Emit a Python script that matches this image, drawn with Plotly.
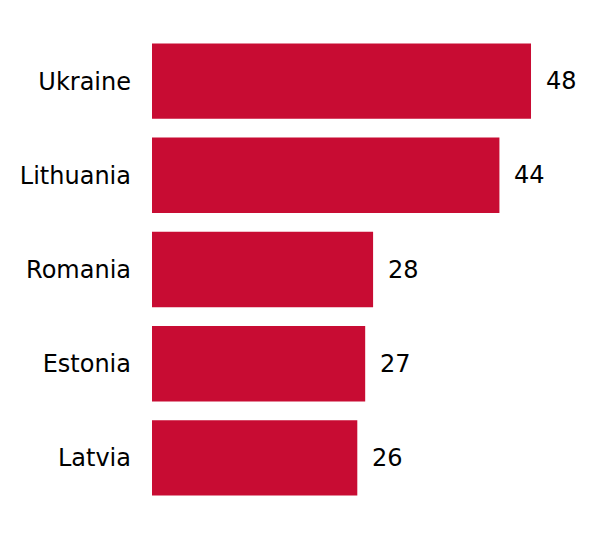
import plotly.graph_objects as go

countries = ["Ukraine", "Lithuania", "Romania", "Estonia", "Latvia"]
values = [48, 44, 28, 27, 26]

BAR_COLOR = "#C80C33"
FONT = dict(family="DejaVu Sans", size=24, color="#000000")

fig = go.Figure()
fig.add_trace(go.Bar(
    x=values,
    y=countries,
    orientation="h",
    marker=dict(color=BAR_COLOR, line=dict(width=0)),
    hoverinfo="skip",
))

for c, v in zip(countries, values):
    fig.add_annotation(
        x=v, y=c, text=str(v), showarrow=False,
        xanchor="left", xshift=13, font=FONT,
    )

# page body adds an 8px offset, margins compensate
fig.update_layout(
    width=598,
    height=539,
    margin=dict(l=144, r=28, t=26, b=42),
    plot_bgcolor="white",
    paper_bgcolor="white",
    bargap=0.2,
    showlegend=False,
    font=FONT,
    xaxis=dict(range=[0, 426 / 7.896], visible=False, fixedrange=True),
    yaxis=dict(
        autorange="reversed",
        showgrid=False,
        showline=False,
        ticks="",
        ticklabelstandoff=20,
        tickfont=FONT,
    ),
)

fig.write_html("out.html")
